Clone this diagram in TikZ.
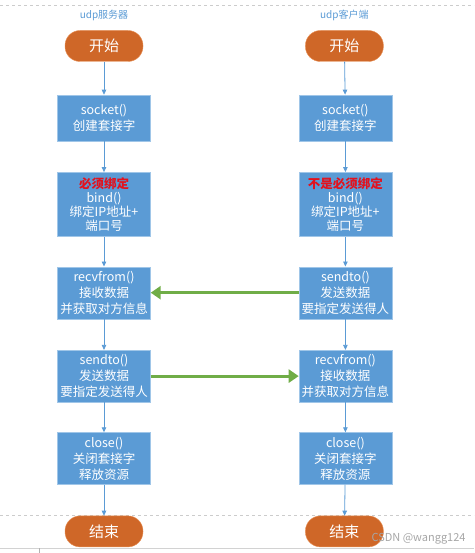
\documentclass[tikz,border=0pt]{standalone}
\usepackage{fontspec}
\setmainfont{Noto Sans CJK SC}
\usetikzlibrary{arrows.meta,
                positioning}
\definecolor{mblue}{RGB}{91,155,213}
\definecolor{mlblue}{RGB}{160,198,232}
\definecolor{morange}{RGB}{207,103,40}
\definecolor{mlorange}{RGB}{232,146,88}
\definecolor{mgreen}{RGB}{112,173,71}
\definecolor{mred}{RGB}{226,18,30}
\tikzset{
    startend/.style = {rectangle, rounded corners=15pt, draw=mlorange, fill=morange,
                       text=white, minimum width=78pt, minimum height=31pt,
                       font=\fontsize{15}{18}\selectfont},
       block/.style = {rectangle, draw=mlblue, fill=mblue, text=white, text width=89pt,
                       minimum height=52pt, inner sep=2pt, align=center,
                       font=\fontsize{12.5}{16}\selectfont},
        line/.style = {draw=mblue, line width=0.8pt, -{Triangle[length=5pt,width=4.5pt]}},
     bigline/.style = {draw=mgreen, line width=3pt, -{Triangle[length=10pt,width=13pt]}},
       title/.style = {text=mblue, font=\fontsize{10}{12}\selectfont}
        }

\begin{document}
\begin{tikzpicture}
\useasboundingbox (0,0) rectangle (474pt,-553pt);
\draw [dashed, gray!40] (0,-5pt) -- (474pt,-5pt);
\draw [dashed, gray!40] (0,-515pt) -- (474pt,-515pt);
\draw [gray!35, line width=1pt] (0,-548pt) -- (474pt,-548pt);
\draw [gray!60] (39pt,-548pt) -- (39pt,-553pt);
% server
\node [startend] (sstart) at (104pt,-46pt) {开始};
\node [title, above=6pt of sstart] (stitle) {udp服务器};
\node [block, below=33pt of sstart, minimum height=46pt] (ssock) {socket()\\创建套接字};
\node [block, below=31pt of ssock, minimum height=64pt,
       font=\fontsize{12.5}{14}\selectfont] (sbind) {{\color{mred}\bfseries 必须绑定}\\bind()\\绑定IP地址+\\端口号};
\node [block, below=30pt of sbind] (srecv) {recvfrom()\\接收数据\\并获取对方信息};
\node [block, below=31pt of srecv] (ssendto) {sendto()\\发送数据\\要指定发送得人};
\node [block, below=30pt of ssendto] (sclose) {close()\\关闭套接字\\释放资源};
\node [startend, below=31pt of sclose] (sstop) {结束};
% client
\node [startend, right=162pt of sstart] (cstart) {开始};
\node [title, above=6pt of cstart] (ctitle) {udp客户端};
\node [block, right=148pt of ssock, minimum height=46pt] (csock) {socket()\\创建套接字};
\node [block, right=148pt of sbind, minimum height=64pt,
       font=\fontsize{12.5}{14}\selectfont] (cbind) {{\color{mred}\bfseries 不是必须绑定}\\bind()\\绑定IP地址+\\端口号};
\node [block, right=148pt of srecv] (csendto) {sendto()\\发送数据\\要指定发送得人};
\node [block, right=148pt of ssendto] (crecv) {recvfrom()\\接收数据\\并获取对方信息};
\node [block, right=148pt of sclose] (cclose) {close()\\关闭套接字\\释放资源};
\node [startend, right=162pt of sstop] (cstop) {结束};
\node [anchor=west, text=gray!70, font=\fontsize{11}{13}\selectfont] (mark) at (368pt,-539pt) {CSDN @wangg124};
% connectors
\foreach \a/\b in {start/sock, sock/bind, bind/recv, recv/sendto, sendto/close, close/stop}
    \path [line] (s\a) -- (s\b);
\foreach \a/\b in {start/sock, sock/bind, bind/sendto, sendto/recv, recv/close, close/stop}
    \path [line] (c\a) -- (c\b);
\path [bigline] (csendto.west) -- (srecv.east);
\path [bigline] (ssendto.east) -- (crecv.west);
\end{tikzpicture}
\end{document}
